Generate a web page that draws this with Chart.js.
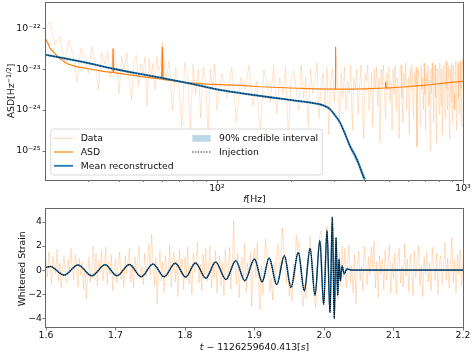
<!DOCTYPE html>
<html><head><meta charset="utf-8">
<script src="https://cdn.jsdelivr.net/npm/chart.js@4.4.1/dist/chart.umd.min.js"></script>
<style>
html,body{margin:0;padding:0;background:#fff;}
#wrap{position:relative;width:474px;height:355px;overflow:hidden;}
canvas{position:absolute;left:0;display:block;}
</style></head><body>
<div id="wrap">
<canvas id="top" width="474" height="205" style="top:0;width:474px;height:205px"></canvas>
<canvas id="bot" width="474" height="150" style="top:205px;width:474px;height:150px"></canvas>
</div>
<script>
// ---------------- TOP PANEL DATA ----------------
function grid(start, stop, step){ const o=[]; for(let v=start; v<=stop+1e-9; v+=step) o.push(+v.toFixed(4)); return o; }
const dataFreq = [...grid(20,60,1), ...grid(62,100,2), ...grid(105,1000,5)];
const dataAsd = [
1.0e-22,1.4e-22,4.0e-23,6.3e-23,1.3e-23,5.0e-23,2.5e-23,5.0e-24,3.2e-23,2.0e-23,
7.9e-24,3.5e-23,1.6e-23,3.2e-24,2.5e-23,1.3e-23,2.8e-23,6.3e-24,3.2e-23,1.4e-23,
2.5e-24,2.0e-23,1.0e-23,2.5e-23,5.0e-24,1.8e-24,1.6e-23,2.2e-23,4.0e-24,1.3e-23,
7.9e-24,2.0e-23,1.3e-24,1.8e-23,6.3e-24,1.4e-23,3.2e-24,2.0e-23,8.9e-24,1.3e-23,
4.5e-23,
5.0e-24,1.6e-23,1.0e-24,1.1e-23,4.0e-24,4.0e-25,1.4e-23,6.3e-24,3.2e-25,1.3e-23,
2.5e-24,1.0e-23,6.3e-25,1.1e-23,5.0e-24,2.5e-25,1.0e-23,3.2e-24,1.3e-23,1.0e-24,
7.9e-24,2.0e-24,1.12e-23,5.0e-25,6.3e-24,3.2e-24,1.26e-23,1.26e-24,5.0e-24,2.5e-25,
1.0e-23,4.0e-24,1.6e-24,1.26e-23,7.9e-25,6.3e-24,2.5e-24,1.12e-23,2.0e-25,5.0e-24,
8.9e-24,3.2e-24,1.0e-24,1.26e-23,2.0e-24,6.3e-24,4.0e-25,1.0e-23,2.5e-24,5.0e-24,
1.41e-23,6.3e-25,4.0e-24,7.9e-24,1.26e-24,1.12e-23,2.5e-25,5.0e-24,1.0e-23,1.6e-24,
2.0e-23,3.2e-24,5.0e-25,7.9e-24,2.0e-24,1.12e-23,1.0e-24,5.0e-24,2.5e-24,1.26e-23,
3.2e-25,6.3e-24,3.2e-24,1.0e-23,7.9e-25,4.0e-24,1.26e-23,1.6e-24,2.0e-25,7.9e-24,
5.0e-24,1.26e-23,1.0e-24,2.5e-24,7.9e-24,4.0e-25,1.0e-23,3.2e-24,1.12e-23,1.26e-24,
6.3e-24,1.6e-25,1.0e-23,4.0e-24,1.26e-23,2.0e-24,6.3e-25,7.9e-24,3.2e-24,1.12e-23,
1.6e-24,5.0e-24,3.2e-25,1.0e-23,2.5e-24,1.26e-23,1.0e-24,6.3e-24,3.2e-24,2.0e-25,
1.0e-23,1.26e-23,2.0e-24,5.0e-25,7.9e-24,4.0e-24,1.41e-23,1.0e-24,2.5e-24,6.3e-24,
2.5e-25,1.0e-23,3.2e-24,1.26e-23,1.6e-24,6.3e-25,7.9e-24,4.0e-24,1.12e-23,1.26e-25,
5.0e-24,1.0e-23,2.0e-24,4.0e-25,1.26e-23,3.2e-24,6.3e-24,1.0e-24,1.41e-23,2.5e-24,
3.2e-25,7.9e-24,4.0e-24,1.26e-23,1.26e-24,5.0e-24,1.0e-25,1.0e-23,2.5e-24,1.41e-23,
4.0e-24,5.0e-25,7.9e-24,1.26e-23,2.0e-24,1.6e-25,6.3e-24,1.0e-23,3.2e-24,7.9e-25,
1.41e-23,4.0e-24,1.26e-24,1.0e-23,2.5e-25,5.0e-24,1.26e-23,2.5e-24,6.3e-25,7.9e-24,
1.58e-23,3.2e-24,1.0e-24,6.3e-24,1.26e-23,2.0e-25,4.0e-24,1.0e-23,1.6e-24,1.41e-23,
5.0e-25,6.3e-24,1.26e-23,2.5e-24,1.0e-24,7.9e-24,1.58e-23,3.2e-25,4.0e-24,1.0e-23,
1.41e-23,2.0e-24,7.9e-25,6.3e-24,1.58e-23,3.2e-24,4.0e-25,1.0e-23,1.78e-23,5.0e-24
];
const asdFreq = [20.2,21,22,23,24.7,26.5,28.7,32,35,37.5,37.8,38.1,45,52,59.6,60,60.4,75,90,124,150,200,250,302,303,304,350,400,482,485,488,550,650,750,850,1000];
const asdVal  = [5.4e-23,3.2e-23,2.35e-23,1.8e-23,1.35e-23,1.17e-23,1.07e-23,9.5e-24,8.7e-24,8.3e-24,3.2e-23,8.2e-24,7.1e-24,6.3e-24,5.7e-24,3.5e-23,5.6e-24,4.7e-24,4.3e-24,4.0e-24,3.7e-24,3.45e-24,3.3e-24,3.25e-24,3.5e-23,3.25e-24,3.25e-24,3.3e-24,3.45e-24,4.9e-24,3.45e-24,3.6e-24,3.9e-24,4.2e-24,4.6e-24,5.0e-24];
const recFreq = [20,30,37.8,50,58.7,80,100,124,164,211,250,270,288,300,316,330,347,370,393,410];
const meanVal = [2.25e-23,1.40e-23,1.02e-23,7.4e-24,6.2e-24,4.3e-24,3.2e-24,2.6e-24,2.05e-24,1.68e-24,1.45e-24,1.30e-24,1.05e-24,7.8e-25,5.0e-25,2.8e-25,1.33e-25,6.3e-26,2.45e-26,1.3e-26];
const ciLow   = [2.1e-23,1.32e-23,9.6e-24,7.0e-24,5.85e-24,4.05e-24,3.0e-24,2.45e-24,1.93e-24,1.58e-24,1.36e-24,1.21e-24,9.6e-25,7.2e-25,4.5e-25,2.45e-25,1.12e-25,5.1e-26,1.9e-26,1.0e-26];
const ciHigh  = [2.4e-23,1.49e-23,1.08e-23,7.8e-24,6.55e-24,4.55e-24,3.4e-24,2.75e-24,2.17e-24,1.78e-24,1.54e-24,1.39e-24,1.14e-24,8.5e-25,5.6e-25,3.2e-25,1.55e-25,7.7e-26,3.1e-26,1.7e-26];
const injVal  = [2.25e-23,1.40e-23,1.02e-23,7.4e-24,6.2e-24,4.3e-24,3.2e-24,2.6e-24,2.05e-24,1.68e-24,1.45e-24,1.30e-24,1.05e-24,7.8e-25,5.0e-25,2.8e-25,1.33e-25,6.3e-26,2.45e-26,1.3e-26];
const topXTicks = [30,40,50,60,70,80,90,100,200,300,400,500,600,700,800,900,1000];
const topXMajor = [100,1000];
const topXLabels = {100:'10\u00B2', 1000:'10\u00B3'};
const topYTicks = [1e-25,1e-24,1e-23,1e-22];
const topYLabels = ['10\u207B\u00B2\u2075','10\u207B\u00B2\u2074','10\u207B\u00B2\u00B3','10\u207B\u00B2\u00B2'];

// ---------------- BOTTOM PANEL DATA ----------------
const strainT0 = 1.6, strainDt = 0.002;
const strainData = [
0.8,-0.6,1.5,0.2,-1.2,1.1,0.4,-0.3,1.7,-0.9,0.6,-1.5,0.3,1.2,-0.7,-1.1,0.9,-0.2,1.8,0.1,-0.8,1.3,0.5,-1.4,1.0,
-0.4,0.7,-1.6,0.2,-2.4,-0.5,1.1,-1.0,0.3,2.0,-0.6,1.4,-1.3,0.8,-0.2,1.6,-0.9,0.4,1.9,-1.2,0.6,-0.4,1.3,-1.7,0.2,
0.9,-1.1,0.5,1.5,-0.8,0.1,-1.4,1.2,-0.3,0.7,1.8,-1.0,0.4,-1.5,1.1,-0.2,0.8,2.0,-0.7,0.3,-1.2,1.4,-0.5,0.6,2.2,
-0.4,3.0,0.5,-1.3,1.0,-2.8,0.2,1.6,-0.9,0.7,-1.8,1.2,0.1,-0.6,2.1,-1.4,0.4,1.5,-1.0,0.8,-2.2,1.7,-0.3,0.9,-1.6,
1.1,-0.5,1.9,-1.2,0.3,-2.0,1.4,-0.2,0.8,2.3,-1.1,0.5,-1.7,1.3,-0.4,1.8,-0.9,0.2,2.0,-1.5,0.7,-0.6,1.6,-1.9,0.4,
1.2,-1.3,0.6,-2.1,1.7,0.1,-0.8,1.9,-1.6,0.5,4.1,0.8,-1.2,1.4,-2.3,0.3,1.1,-0.7,2.2,-1.8,0.6,-0.4,1.5,-3.0,0.9,
1.8,-0.6,2.3,-1.4,-3.3,0.4,-2.0,0.9,2.6,1.2,0.3,-1.8,-0.7,-2.5,0.6,-1.3,1.4,2.2,-0.2,0.8,3.5,1.9,0.4,-1.1,0.2,
-2.2,-1.0,-2.6,0.5,-0.8,2.9,1.6,2.4,0.2,-1.9,-3.0,-1.2,-2.4,0.6,1.3,2.8,1.1,0.3,-2.3,-3.1,-1.0,1.4,2.9,3.3,-1.8,
-2.6,0.9,3.6,1.0,-3.2,-0.5,4.5,-2.9,0.8,2.2,-2.4,1.5,-1.3,2.0,-0.6,1.8,-1.5,0.7,2.1,-1.1,0.4,-1.9,1.3,-2.8,0.5,
1.6,-0.9,0.3,-1.7,2.0,0.6,-1.2,1.1,-0.4,1.9,0.2,2.4,-1.5,0.7,-2.3,1.2,-0.3,0.9,-1.6,1.7,-0.8,0.4,2.1,-1.9,0.6,
-0.7,1.4,-2.0,0.5,1.8,-1.1,0.3,-1.4,2.2,-0.5,0.9,-1.8,1.3,0.1,-2.1,1.6,-0.6,0.8,2.0,-1.3,0.4,-2.2,1.1,-0.3,1.5,
-1.0,0.6,-1.7,1.9,0.2,-0.9,1.4,-2.0,0.7,1.2,-1.2,0.3,2.3,-0.8,1.0,-1.5,0.5,2.7,-1.1,0.8,-1.9,1.3,-0.4,1.7,-1.3,
0.6
];
const strainTime = strainData.map((_, i) => +(strainT0 + i*strainDt).toFixed(4));
const waveT = [1.600,1.606,1.626,1.646,1.666,1.685,1.702,1.720,1.737,1.754,1.770,1.786,1.801,1.815,1.830,1.844,1.859,1.873,1.886,1.900,1.911,1.921,1.932,1.943,1.9525,1.963,1.9717,1.980,1.987,1.994,1.9995,2.0043,2.0086,2.0120,2.0148,2.0173,2.0197,2.0216,2.0235,2.0260,2.0290,2.0330,2.0400,2.1000,2.2000];
const meanStrain = [0.22,0.30,-0.42,0.42,-0.47,0.44,-0.47,0.46,-0.55,0.50,-0.55,0.58,-0.58,0.60,-0.67,0.67,-0.78,0.78,-0.88,0.92,-0.98,1.00,-1.20,1.20,-1.44,1.47,-1.72,1.80,-2.08,2.44,-2.83,3.28,-3.53,4.39,-4.03,2.70,-2.10,0.90,-0.90,0.35,-0.30,0.10,0.0,0.0,0.0];
const injStrain  = [0.22,0.30,-0.42,0.42,-0.47,0.44,-0.47,0.46,-0.55,0.50,-0.55,0.58,-0.58,0.60,-0.67,0.67,-0.78,0.78,-0.88,0.92,-0.98,1.00,-1.20,1.20,-1.44,1.47,-1.72,1.80,-2.08,2.44,-2.83,3.28,-3.53,4.39,-4.03,2.70,-2.10,0.90,-0.90,0.35,-0.30,0.10,0.0,0.0,0.0];
const botXTicks = [1.6,1.7,1.8,1.9,2.0,2.1,2.2];
const botXLabels = ['1.6','1.7','1.8','1.9','2.0','2.1','2.2'];
const botYTicks = [-4,-2,0,2,4];
const botYLabels = ['\u22124','\u22122','0','2','4'];

// ---------------- helpers ----------------
const zip = (xs, ys) => xs.map((x, i) => ({x, y: ys[i]}));
const FONT = '"DejaVu Sans"';
const FS = 9.3;
const ORANGE = '#ff7f0e', BLUE = '#1f77b4';
const tickFont = {family: 'DejaVu Sans', size: FS};

function richText(ctx, segs, cx, by) {
  let total = 0;
  segs.forEach(s => { ctx.font = s.font; s.w = ctx.measureText(s.text).width; total += s.w; });
  let x = cx - total/2;
  segs.forEach(s => { ctx.font = s.font; ctx.fillText(s.text, x, by - (s.rise || 0)); x += s.w; });
}
const nF = FS + 'px ' + FONT, iF = 'italic ' + FS + 'px ' + FONT, sF = '6.6px ' + FONT;

function decor(opts) {
  return {
    id: 'decor_' + opts.name,
    afterDatasetsDraw(chart) {
      const {ctx, chartArea: a} = chart;
      ctx.save();
      ctx.strokeStyle = '#555'; ctx.lineWidth = 0.8;
      const xs = chart.scales.x, ys = chart.scales.y;
      const B = Math.round(a.bottom), L = Math.round(a.left);
      xs.ticks.forEach(t => {
        const len = opts.xMajor(t.value) ? 3.5 : 2;
        const p = Math.round(xs.getPixelForValue(t.value)) + 0.5;
        ctx.beginPath(); ctx.moveTo(p, B); ctx.lineTo(p, B + len); ctx.stroke();
      });
      ys.ticks.forEach(t => {
        const p = Math.round(ys.getPixelForValue(t.value)) + 0.5;
        ctx.beginPath(); ctx.moveTo(L, p); ctx.lineTo(L - 3.5, p); ctx.stroke();
      });
      ctx.strokeStyle = '#666'; ctx.lineWidth = 1;
      ctx.strokeRect(Math.round(a.left) - 0.5, Math.round(a.top) - 0.5, Math.round(a.right) - Math.round(a.left) + 1, Math.round(a.bottom) - Math.round(a.top) + 1);
      ctx.restore();
    },
    afterDraw(chart) {
      const ctx = chart.ctx;
      ctx.save();
      ctx.fillStyle = '#111'; ctx.textBaseline = 'alphabetic';
      richText(ctx, opts.xTitle, opts.xTitlePos[0], opts.xTitlePos[1]);
      ctx.translate(opts.yTitlePos[0], opts.yTitlePos[1]);
      ctx.rotate(-Math.PI/2);
      richText(ctx, opts.yTitle, 0, 0);
      ctx.restore();
      if (opts.legend) opts.legend(chart);
    }
  };
}

function drawLegend(chart) {
  const ctx = chart.ctx;
  ctx.save();
  const bx = 50.7, by = 129, bw = 271.6, bh = 46;
  ctx.beginPath();
  ctx.roundRect(bx, by, bw, bh, 2.5);
  ctx.fillStyle = 'rgba(255,255,255,0.8)'; ctx.fill();
  ctx.strokeStyle = '#d0d0d0'; ctx.lineWidth = 0.8; ctx.stroke();
  const ds = chart.data.datasets;
  const rows = [138.4, 152.0, 165.8];
  const items = [
    {ds: ds[0], col: 0, row: 0, kind: 'line'},
    {ds: ds[1], col: 0, row: 1, kind: 'line'},
    {ds: ds[4], col: 0, row: 2, kind: 'line'},
    {ds: ds[3], col: 1, row: 0, kind: 'rect'},
    {ds: ds[5], col: 1, row: 1, kind: 'line'}
  ];
  const cols = [{h0: 54, h1: 73, tx: 80.7}, {h0: 192.3, h1: 210.7, tx: 219}];
  items.forEach(it => {
    const c = cols[it.col], y = rows[it.row];
    if (it.kind === 'rect') {
      ctx.fillStyle = it.ds.backgroundColor;
      ctx.fillRect(c.h0, y - 3.3, c.h1 - c.h0, 6.6);
    } else {
      ctx.strokeStyle = it.ds.borderColor;
      ctx.lineWidth = Math.max(it.ds.borderWidth, 1.2);
      ctx.setLineDash(it.ds.borderDash || []);
      ctx.beginPath(); ctx.moveTo(c.h0, y); ctx.lineTo(c.h1, y); ctx.stroke();
      ctx.setLineDash([]);
    }
    ctx.fillStyle = '#111'; ctx.font = nF; ctx.textBaseline = 'middle';
    ctx.fillText(it.ds.label, c.tx, y + 0.5);
  });
  ctx.restore();
}

const axisGrid = {display: false, drawTicks: false, tickLength: 0};

// ---------------- TOP CHART ----------------
new Chart(document.getElementById('top'), {
  type: 'line',
  data: { datasets: [
    {label: 'Data', data: zip(dataFreq, dataAsd), borderColor: 'rgba(255,127,14,0.3)', borderWidth: 0.7, order: 6},
    {label: 'ASD', data: zip(asdFreq, asdVal), borderColor: ORANGE, borderWidth: 1.2, order: 5},
    {label: 'ci low', data: zip(recFreq, ciLow), borderColor: 'rgba(0,0,0,0)', borderWidth: 1, cubicInterpolationMode: 'monotone', order: 4},
    {label: '90% credible interval', data: zip(recFreq, ciHigh), borderColor: 'rgba(0,0,0,0)', borderWidth: 1, backgroundColor: 'rgba(31,119,180,0.3)', fill: '-1', cubicInterpolationMode: 'monotone', order: 3},
    {label: 'Mean reconstructed', data: zip(recFreq, meanVal), borderColor: BLUE, borderWidth: 1.8, cubicInterpolationMode: 'monotone', order: 2},
    {label: 'Injection', data: zip(recFreq, injVal), borderColor: '#000', borderWidth: 0.9, borderDash: [1.2, 1.6], cubicInterpolationMode: 'monotone', order: 1}
  ]},
  options: {
    responsive: false, animation: false, devicePixelRatio: 1,
    layout: {padding: {left: 0, right: 11, top: 3.3, bottom: 0}},
    elements: {point: {radius: 0, hoverRadius: 0}, line: {tension: 0}},
    events: [],
    plugins: {legend: {display: false}, tooltip: {enabled: false}},
    scales: {
      x: {type: 'logarithmic', min: 20.2, max: 1000,
        grid: axisGrid, border: {display: false},
        afterBuildTicks: s => { s.ticks = topXTicks.map(v => ({value: v})); },
        afterFit: s => { s.height = 25.5; s.paddingLeft = 0; s.paddingRight = 0; },
        ticks: {autoSkip: false, maxRotation: 0, minRotation: 0, padding: 3.5, color: '#111', font: tickFont,
          callback: v => topXLabels[v] || ''}},
      y: {type: 'logarithmic', min: 2.11e-26, max: 4.06e-22,
        grid: axisGrid, border: {display: false},
        afterBuildTicks: s => { s.ticks = topYTicks.map(v => ({value: v})); },
        afterFit: s => { s.width = 46; s.paddingTop = 0; s.paddingBottom = 0; },
        ticks: {autoSkip: false, padding: 5.5, color: '#111', font: tickFont,
          callback: (v) => { const i = topYTicks.indexOf(v); return i >= 0 ? topYLabels[i] : ''; }}}
    }
  },
  plugins: [decor({
    name: 'top',
    xMajor: v => topXMajor.includes(v),
    xTitle: [{text: 'f', font: iF}, {text: '[Hz]', font: nF}],
    xTitlePos: [254.5, 202],
    yTitle: [{text: 'ASD[Hz', font: nF}, {text: '\u22121/2', font: sF, rise: 3.8}, {text: ']', font: nF}],
    yTitlePos: [14.3, 91],
    legend: drawLegend
  })]
});

// ---------------- BOTTOM CHART ----------------
new Chart(document.getElementById('bot'), {
  type: 'line',
  data: { datasets: [
    {label: 'Data', data: zip(strainTime, strainData), borderColor: 'rgba(255,127,14,0.3)', borderWidth: 0.8, order: 3},
    {label: 'Mean reconstructed', data: zip(waveT, meanStrain), borderColor: BLUE, borderWidth: 1.5, cubicInterpolationMode: 'monotone', order: 2},
    {label: 'Injection', data: zip(waveT, injStrain), borderColor: '#000', borderWidth: 1.1, borderDash: [1.1, 0.9], cubicInterpolationMode: 'monotone', order: 1}
  ]},
  options: {
    responsive: false, animation: false, devicePixelRatio: 1,
    layout: {padding: {left: 0, right: 11, top: 4, bottom: 0}},
    elements: {point: {radius: 0, hoverRadius: 0}, line: {tension: 0}},
    events: [],
    plugins: {legend: {display: false}, tooltip: {enabled: false}},
    scales: {
      x: {type: 'linear', min: 1.6, max: 2.2,
        grid: axisGrid, border: {display: false},
        afterBuildTicks: s => { s.ticks = botXTicks.map(v => ({value: v})); },
        afterFit: s => { s.height = 28; s.paddingLeft = 0; s.paddingRight = 0; },
        ticks: {autoSkip: false, maxRotation: 0, minRotation: 0, padding: 3.5, color: '#111', font: tickFont,
          callback: (v) => { const i = botXTicks.findIndex(t => Math.abs(t - v) < 1e-9); return i >= 0 ? botXLabels[i] : ''; }}},
      y: {type: 'linear', min: -4.73, max: 5.08,
        grid: axisGrid, border: {display: false},
        afterBuildTicks: s => { s.ticks = botYTicks.map(v => ({value: v})); },
        afterFit: s => { s.width = 46; s.paddingTop = 0; s.paddingBottom = 0; },
        ticks: {autoSkip: false, padding: 4, color: '#111', font: tickFont,
          callback: (v) => { const i = botYTicks.indexOf(v); return i >= 0 ? botYLabels[i] : ''; }}}
    }
  },
  plugins: [decor({
    name: 'bot',
    xMajor: v => true,
    xTitle: [{text: 't', font: iF}, {text: ' \u2212 1126259640.413[', font: nF}, {text: 's', font: iF}, {text: ']', font: nF}],
    xTitlePos: [254.5, 144.5],
    yTitle: [{text: 'Whitened Strain', font: nF}],
    yTitlePos: [25.2, 63.8]
  })]
});
</script>
</body></html>
